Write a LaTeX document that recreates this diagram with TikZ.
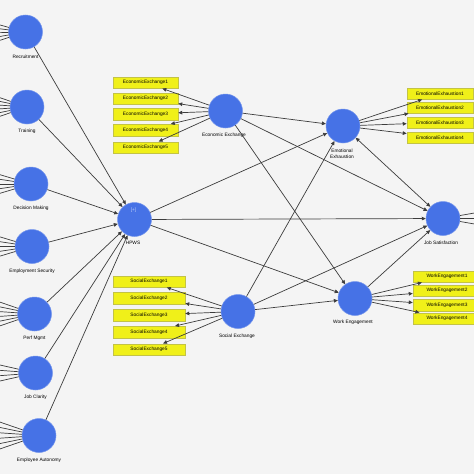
\documentclass[tikz,border=0pt]{standalone}
\usepackage{fontspec}
\setmainfont{Liberation Sans}
\usetikzlibrary{arrows.meta,calc}
\definecolor{bg}{RGB}{244,244,244}
\definecolor{lv}{RGB}{70,114,230}
\definecolor{ind}{RGB}{240,240,25}
\definecolor{indb}{RGB}{195,195,70}
\definecolor{pathc}{RGB}{60,60,60}
\begin{document}
\begin{tikzpicture}[x=1pt,y=-1pt,
 lvnode/.style={circle,fill=lv,draw=lv!75!white,line width=0.5pt,minimum size=34pt,inner sep=0pt},
 lbl/.style={font=\fontsize{4.8}{5.8}\selectfont,inner sep=0pt,align=center},
 indbox/.style={rectangle,fill=ind,draw=indb,line width=0.5pt,minimum height=11.5pt,inner sep=0pt,font=\fontsize{4.8}{5.5}\selectfont},
 tip/.tip={Triangle[length=4pt,width=3.6pt]},
 pth/.style={draw=pathc,line width=0.7pt,-tip},
 fan/.style={draw=pathc,line width=0.7pt}]
\fill[bg] (0,0) rectangle (474,474);
\useasboundingbox (0,0) rectangle (474,474);
\clip (0,0) rectangle (474,474);

% latent variables
\node[lvnode] (rec) at (25.5,32) {};
\node[lvnode] (trn) at (27,107) {};
\node[lvnode] (dec) at (31,184) {};
\node[lvnode] (emp) at (32,246.5) {};
\node[lvnode] (perf) at (34.5,314) {};
\node[lvnode] (jc) at (35.5,373) {};
\node[lvnode] (aut) at (39,435.5) {};
\node[lvnode] (hpws) at (134.5,219.5) {};
\node[lvnode] (eco) at (225.5,111) {};
\node[lvnode] (soc) at (238,311.5) {};
\node[lvnode] (ee) at (343,126) {};
\node[lvnode] (js) at (443,218.5) {};
\node[lvnode] (we) at (355,298.5) {};

% labels
\node[lbl] (lrec) at (25.5,56.5) {Recruitment};
\node[lbl] (ltrn) at (27,131.5) {Training};
\node[lbl] (ldec) at (31,208.5) {Decision Making};
\node[lbl] (lemp) at (32,271) {Employment Security};
\node[lbl] (lperf) at (34.5,338.5) {Perf Mgmt};
\node[lbl] (ljc) at (35.5,397.5) {Job Clarity};
\node[lbl] (laut) at (39,460) {Employee Autonomy};
\node[lbl] (lhpws) at (133,243) {HPWS};
\node[lbl] (leco) at (224,135) {Economic Exchange};
\node[lbl] (lsoc) at (237,336.5) {Social Exchange};
\node[lbl] (lee) at (342,153.5) {Emotional\\Exhaustion};
\node[lbl] (ljs) at (441,243) {Job Satisfaction};
\node[lbl] (lwe) at (353,322.5) {Work Engagement};
\node[lbl,text=lv!35!white] (plus) at (133.5,210.5) {[+]};

% indicator boxes
\foreach \i/\yy in {1/82.5,2/98.5,3/114,4/130,5/147.5}
  \node[indbox,minimum width=65pt] (eco\i) at (145.5,\yy) {EconomicExchange\i};
\foreach \i/\yy in {1/281.5,2/298,3/315,4/332,5/349.5}
  \node[indbox,minimum width=72pt] (soc\i) at (149,\yy) {SocialExchange\i};
\foreach \i/\yy in {1/93.5,2/107.5,3/122.5,4/137.5}
  \node[indbox,minimum width=66pt] (ee\i) at (440,\yy) {EmotionalExhaustion\i};
\foreach \i/\yy in {1/276.5,2/290.5,3/305,4/318.5}
  \node[indbox,minimum width=68pt] (we\i) at (447,\yy) {WorkEngagement\i};

% fan lines to off-canvas indicators
\foreach \k in {-2,...,2} \draw[fan] (rec) -- ($(rec)+(-80,\k*12+2)$);
\foreach \k in {-2.5,-1.5,...,2.5} \draw[fan] (trn) -- ($(trn)+(-80,\k*11)$);
\foreach \k in {-2,...,2} \draw[fan] (dec) -- ($(dec)+(-80,\k*12)$);
\foreach \k in {-2,...,2} \draw[fan] (emp) -- ($(emp)+(-80,\k*12)$);
\foreach \k in {-2.5,-1.5,...,2.5} \draw[fan] (perf) -- ($(perf)+(-80,\k*11)$);
\foreach \k in {-1.5,-0.5,...,1.5} \draw[fan] (jc) -- ($(jc)+(-80,\k*12)$);
\foreach \k in {-2.5,-1.5,...,2.5} \draw[fan] (aut) -- ($(aut)+(-80,\k*11)$);
\foreach \k in {-1,0,1} \draw[fan] (js) -- ($(js)+(80,\k*14)$);

% structural paths
\foreach \s in {rec,trn,dec,emp,perf,jc,aut} \draw[pth] (\s) -- (hpws);
\foreach \t in {ee,js,we} {
  \draw[pth] (hpws) -- (\t);
  \draw[pth] (eco) -- (\t);
  \draw[pth] (soc) -- (\t);
}
\draw[pth,tip-tip] (ee) -- (js);
\draw[pth] (we) -- (js);

% measurement arrows
\foreach \i in {1,...,5} \draw[pth] (eco) -- (eco\i);
\foreach \i in {1,...,5} \draw[pth] (soc) -- (soc\i);
\foreach \i in {1,...,4} \draw[pth] (ee) -- (ee\i);
\foreach \i in {1,...,4} \draw[pth] (we) -- (we\i);
\end{tikzpicture}
\end{document}
